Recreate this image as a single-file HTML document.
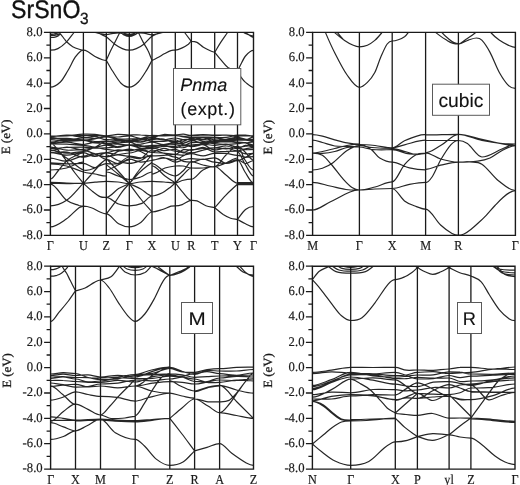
<!DOCTYPE html><html><head><meta charset="utf-8"><title>SrSnO3 band structures</title><style>html,body{margin:0;padding:0;background:#fff;overflow:hidden;}svg{display:block;}</style></head><body>
<svg width="520" height="485" viewBox="0 0 520 485" text-rendering="geometricPrecision">
<rect width="520" height="485" fill="#fff"/>
<text transform="translate(11.1 18.3) scale(0.91 1)" font-family="Liberation Sans, sans-serif" font-size="25.4" fill="#111" stroke="#111" stroke-width="0.35">SrSnO</text>
<text transform="translate(79.9 24.3) scale(0.95 1)" font-family="Liberation Sans, sans-serif" font-size="16.2" fill="#111" stroke="#111" stroke-width="0.3">3</text>
<clipPath id="c0"><rect x="50.4" y="32.4" width="203.1" height="203"/></clipPath>
<path clip-path="url(#c0)" fill="none" stroke="#262626" stroke-width="1.2" d="M50.4 87.2C53.7 87.2 57.1 85.1 60.4 82C62.9 79.7 65.3 74.9 67.8 70.8C70.3 66.7 72.7 61 75.2 57.2C77.1 54.4 78.9 52.6 80.8 51C81.7 50.3 82.5 50.2 83.4 50.2C84.8 50.2 86.2 50.8 87.6 51.6C90.1 53 92.5 55.2 95 56.6C97.5 58 99.9 58.9 102.4 59.7C103.7 60.1 105 60.3 106.3 60.3 M106.3 60.3C108.3 63.8 110.4 67.6 112.4 70.8C115.3 75.3 118.1 80.4 121 83.2C123.8 85.9 126.5 87.2 129.3 87.2C132.3 87.2 135.4 85 138.4 82C141.3 79.1 144.1 74.2 147 69.6C148.7 66.9 150.3 63.4 152 60.3 M152 60.3C153.8 60.3 155.6 58.8 157.4 57.8C159.9 56.5 162.3 54.8 164.8 53.5C167.1 52.3 169.3 51.1 171.6 50.4C172.8 50 174.1 50.2 175.3 50.2C177.6 50.2 179.9 49 182.2 47.9C184.3 47 186.3 45.7 188.4 44.2C189.4 43.5 190.4 41.4 191.4 41.4C193.3 41.4 195.1 41.5 197 42.4C199.1 43.4 201.3 46 203.4 47.3C205.9 48.8 208.3 49.9 210.8 51C212.1 51.6 213.4 51.9 214.7 52.3 M214.7 52.3C216.7 54.8 218.7 57.4 220.7 59.7C223.2 62.6 225.7 66 228.2 67.7C231.3 69.8 234.4 68.7 237.5 71C238.7 71.9 240 75.6 241.2 77.4C242.6 79.4 244.1 81.2 245.5 82.4C248.2 84.5 250.8 87.3 253.5 87.3 M237.5 71C238.3 69.3 239.2 67.5 240 65.9C241.8 62.5 243.7 58.1 245.5 56C248.2 52.9 250.8 50.4 253.5 50.4 M214.7 52.3C216.7 49 218.7 45.5 220.7 42.4C223 38.9 225.2 35.9 227.5 32.5C228.7 30.8 229.8 27 231 27 M50.4 50.2C52.9 50.2 55.4 49.9 57.9 48.6C60.8 47.1 63.7 44.7 66.6 41.8C69.1 39.3 71.5 35.7 74 32.5C75.3 30.8 76.7 27 78 27 M56 29C57.5 29 58.9 32.1 60.4 33.8C61.7 35.4 63.1 37.3 64.4 39C65.1 39.9 65.9 41.1 66.6 41.8C68.6 43.7 70.7 45.6 72.7 46.7C75.4 48.2 78.1 48.9 80.8 49.8C81.7 50.1 82.5 50.2 83.4 50.2 M106.3 60.3C107.9 56.8 109.5 53.2 111.1 49.8C112.3 47.2 113.6 44.9 114.8 42.4C116.5 39.1 118.1 35.8 119.8 32.5C120.5 31 121.3 28 122 28 M96 29C97.3 29 98.7 32.7 100 33.7C102.1 35.3 104.1 35.3 106.2 36.8C109.1 38.8 111.9 42.1 114.8 44.2C117.3 46 119.8 47.6 122.3 48.6C124.6 49.6 127 50.2 129.3 50.2C131.6 50.2 134 49.6 136.3 48.6C138.8 47.6 141.3 46.2 143.8 44.2C146.5 42 149.3 38.2 152 36.2C154.7 34.3 157.3 33.9 160 32.5C161.3 31.8 162.7 30 164 30 M152 60.3C150.7 57.2 149.5 53.6 148.2 51C146.6 47.6 144.9 45.5 143.3 42.4C141.7 39.3 140 35.7 138.4 32.5C137.6 30.9 136.8 28 136 28 M180 26C181.5 26 183.1 30.4 184.6 32.5C186.9 35.6 189.1 38.4 191.4 41.4 M50.4 34.1C51.6 34.1 52.8 34.2 54 34C55.4 33.8 56.8 33.3 58.2 33C59.1 32.8 60.1 32.4 61 32.4 M50.4 35.4C51.8 35.4 53.1 35.5 54.5 35.3C55.7 35.2 57 34.8 58.2 34.5C58.9 34.3 59.7 33.8 60.4 33.8 M50.4 37.3C51.9 37.3 53.5 37.4 55 37.1C56.1 36.9 57.1 36.5 58.2 35.9C58.9 35.5 59.7 34.1 60.4 34.1 M95 32.5C96.7 32.5 98.3 33.3 100 33.6C102.1 34 104.2 34.6 106.3 34.6C108.5 34.6 110.8 33.7 113 33.4C115.3 33.1 117.7 32.7 120 33C123.1 33.4 126.2 35.6 129.3 35.6C132.4 35.6 135.4 33.4 138.5 33C140.7 32.7 142.8 33.1 145 33.4C147.3 33.7 149.7 34.8 152 34.8C154 34.8 156 34 158 33.6C159.7 33.3 161.3 32.5 163 32.5 M118 31C119.8 31 121.7 33.7 123.5 34.6C125.4 35.5 127.4 36.4 129.3 36.4C131.2 36.4 133.1 35.5 135 34.6C136.9 33.7 138.7 31 140.6 31 M120 31C121.7 31 123.3 33 125 33.6C126.4 34.1 127.9 34.4 129.3 34.4C130.7 34.4 132.2 34.1 133.6 33.6C135.3 33 136.9 31 138.6 31 M239 30.5C241.3 30.5 243.7 32.9 246 33.8C248.5 34.7 251 36 253.5 36 M242 30.5C244.2 30.5 246.3 33.3 248.5 34.6C250.2 35.6 251.8 37.4 253.5 37.4 M50.4 205.8C55.8 205.8 61.2 204 66.6 200.3C72.2 196.5 77.8 188.9 83.4 183.2 M50.4 184.2C55.8 184.2 61.2 196.3 66.6 200.3C70.7 203.4 74.9 204 79 205.5C80.5 206 81.9 206.2 83.4 206.2 M50.4 226.9C55.8 226.9 61.2 222.4 66.6 218.8C70.7 216 74.9 210.8 79 207.7C80.5 206.6 81.9 206.7 83.4 206.2 M83.4 206.2C86 206.2 88.7 206.8 91.3 207.7C94.2 208.7 97.1 210.8 100 212C102.1 212.9 104.2 213.9 106.3 213.9 M83.4 183.2C86 185.6 88.7 188.3 91.3 190.4C94.2 192.7 97.1 195.2 100 196.6C102.1 197.6 104.2 197.4 106.3 197.4 M50.4 182.3C55.8 182.3 61.2 182.9 66.6 183C72.2 183.2 77.8 183.4 83.4 183.2C87.3 183.1 91.1 182.5 95 182.2C98.8 181.9 102.5 181.3 106.3 181.3C110.2 181.3 114.1 181.6 118 182C121.8 182.4 125.5 183.6 129.3 183.6C132.9 183.6 136.4 182.4 140 182C144 181.6 148 181.3 152 181.3C156 181.3 160 181.7 164 182C167.8 182.3 171.5 183 175.3 183 M50.4 183.3C55.8 183.3 61.2 183.6 66.6 183.6C72.2 183.6 77.8 183.2 83.4 183.2 M106.3 197.4C110.4 197.4 114.5 191 118.6 188.5C122.2 186.4 125.7 185.2 129.3 183.6 M106.3 197.4C110.4 197.4 114.5 202.5 118.6 204C122.2 205.3 125.7 205.8 129.3 205.8C133.5 205.8 137.8 205.2 142 203.4C145.3 202 148.7 196 152 196 M106.3 213.9C109.1 210.2 112 206.6 114.8 202.7C117.3 199.2 119.8 194.9 122.3 191.6C124.6 188.5 127 186.3 129.3 183.6 M106.3 213.9C110.4 213.9 114.5 221.5 118.6 223.8C122.2 225.8 125.7 226.9 129.3 226.9C133.1 226.9 137 225 140.8 222.5C144.5 220 148.3 212 152 212 M129.3 183.6C133.1 188.7 137 194.2 140.8 199C144.5 203.7 148.3 207.7 152 212 M129.3 183.6C133.1 185.4 137 186.9 140.8 189C144.5 191 148.3 196 152 196 M152 196C155.5 196 158.9 194.5 162.4 192.8C165.3 191.4 168.1 188.9 171 186.7C172.4 185.6 173.9 184.2 175.3 183 M152 212C155.5 212 158.9 210.6 162.4 209.5C165.3 208.6 168.1 207 171 206.2C172.4 205.8 173.9 205.8 175.3 205.8C177.6 205.8 179.9 205.4 182.2 204.6C185.3 203.6 188.3 200.3 191.4 200.3C193.3 200.3 195.1 200.2 197 200.9C200 202 202.9 204.7 205.9 205.8C208.8 206.9 211.8 207.1 214.7 207.7 M175.3 183C177.6 185.9 179.9 189.1 182.2 191.6C185.3 194.9 188.3 200.3 191.4 200.3 M175.3 183C177.6 183 179.9 181 182.2 180.5C185.3 179.8 188.3 179.2 191.4 179.2 M191.4 179.2C195.3 179.2 199.1 172.1 203 170C206.9 167.9 210.8 166.5 214.7 166.5 M214.7 207.7C218.4 203.6 222 199.1 225.7 195.3C229.6 191.2 233.6 187.9 237.5 184.2 M214.7 207.7C217.5 210 220.4 212.6 223.2 214.5C225.7 216.1 228.1 217.4 230.6 218.2C232.9 219 235.2 219 237.5 219.4 M214.7 166.5C218.5 166.5 222.2 172.2 226 175C229.8 177.8 233.7 183.2 237.5 183.2 M237.5 219.4C240.2 216.1 242.8 211.7 245.5 209.5C248.2 207.3 250.8 206.5 253.5 206.5 M237.5 219.4C240.2 220.9 242.8 222.6 245.5 223.8C248.2 225.1 250.8 226.9 253.5 226.9 M237.5 182.6C242.8 182.6 248.2 182.6 253.5 182.6 M237.5 183.6C242.8 183.6 248.2 183.6 253.5 183.6 M237.5 184.6C242.8 184.6 248.2 184.6 253.5 184.6 M50.4 143C52.9 143 55.5 147.2 58 150C60.9 153.2 63.7 157.1 66.6 161C69.4 164.8 72.2 169.3 75 173C77.8 176.7 80.6 179.8 83.4 183.2 M50.4 179C52.9 179 55.5 173.8 58 171C60.9 167.8 63.7 163.5 66.6 161C69.4 158.5 72.2 157.3 75 156C77.8 154.7 80.6 153 83.4 153 M50.4 170C55.8 170 61.2 169.3 66.6 168C72.2 166.6 77.8 162 83.4 162 M83.4 183.2C85.6 180.8 87.8 178.5 90 176C92.3 173.4 94.7 170.3 97 168C100.1 165 103.2 160 106.3 160 M106.3 158.5C110.2 162.7 114.1 166.7 118 171C121.8 175.1 125.5 179.4 129.3 183.6 M106.3 164.6C110.2 167.7 114.1 170.8 118 174C121.8 177.1 125.5 180.4 129.3 183.6 M129.3 183.6C132.9 179.7 136.4 175.4 140 172C144 168.2 148 165.5 152 162.2 M129.3 183.6C132.9 178.7 136.4 173.5 140 169C144 163.9 148 159.5 152 154.7 M152 163.7C156.3 163.7 160.7 169.7 165 172C168.4 173.8 171.9 176 175.3 176C178.2 176 181.1 172.6 184 170C186.5 167.8 188.9 161.7 191.4 161.7 M152 165.8C156.3 165.8 160.7 172.8 165 176C168.4 178.5 171.9 180.7 175.3 183 M175.3 183C177.9 180.3 180.4 177.4 183 175C185.8 172.4 188.6 168 191.4 168 M191.4 161.7C195.3 161.7 199.1 164.1 203 165C206.9 165.9 210.8 167 214.7 167 M191.4 168C195.3 168 199.1 168.2 203 168C206.9 167.7 210.8 166.5 214.7 166.5 M214.7 166.5C218.5 166.5 222.2 158.4 226 155C229.8 151.6 233.7 146 237.5 146 M237.5 146C240 146 242.5 156.2 245 160C247.8 164.2 250.7 170 253.5 170 M237.5 160C240 160 242.5 168.4 245 172C247.8 176.1 250.7 183 253.5 183 M106.3 170C110.2 170 114.1 166.7 118 165C121.8 163.4 125.5 160 129.3 160 M50.4 136C55.9 136 61.4 136.2 66.9 135.9C72.4 135.6 77.9 134.2 83.4 134.2C87.2 134.2 91 134.1 94.8 134.4C98.7 134.7 102.5 135.8 106.3 135.8C110.1 135.8 114 134.6 117.8 134.4C121.6 134.3 125.5 135 129.3 135C133.1 135 136.9 134.8 140.7 135C144.4 135.1 148.2 135.9 152 135.9C155.9 135.9 159.8 135.4 163.7 135.2C167.5 135.1 171.4 134.8 175.3 134.8C178 134.8 180.7 134.1 183.4 134.2C186 134.3 188.7 135.3 191.4 135.3C195.3 135.3 199.2 134.6 203.1 134.5C206.9 134.5 210.8 135 214.7 135C218.5 135 222.3 135 226.1 135.1C229.9 135.3 233.7 135.8 237.5 135.8C240.2 135.8 242.8 135.9 245.5 135.9C248.2 135.9 250.8 135.8 253.5 135.8 M50.4 136.6C55.9 136.6 61.4 135.1 66.9 135C72.4 134.8 77.9 135.7 83.4 135.7C87.2 135.7 91 135.5 94.8 135.6C98.7 135.7 102.5 136.4 106.3 136.4C110.1 136.4 114 138.5 117.8 138.9C121.6 139.3 125.5 138.9 129.3 138.9C133.1 138.9 136.9 139.2 140.7 138.6C144.4 138 148.2 135.3 152 135.3C155.9 135.3 159.8 135.9 163.7 135.9C167.5 136 171.4 135.6 175.3 135.6C178 135.6 180.7 136.3 183.4 136.3C186 136.4 188.7 135.9 191.4 135.9C195.3 135.9 199.2 136.1 203.1 136C206.9 136 210.8 135.6 214.7 135.6C218.5 135.6 222.3 134.8 226.1 135C229.9 135.1 233.7 136.6 237.5 136.6C240.2 136.6 242.8 135.1 245.5 135C248.2 135 250.8 136.4 253.5 136.4 M50.4 136.6C55.9 136.6 61.4 134.9 66.9 135C72.4 135.1 77.9 137.3 83.4 137.3C87.2 137.3 91 138.7 94.8 138.5C98.7 138.4 102.5 136.5 106.3 136.5C110.1 136.5 114 137.1 117.8 137C121.6 136.9 125.5 135.9 129.3 135.9C133.1 135.9 136.9 138.2 140.7 138.5C144.4 138.7 148.2 137.4 152 137.4C155.9 137.4 159.8 134.8 163.7 134.5C167.5 134.2 171.4 135.4 175.3 135.4C178 135.4 180.7 136.6 183.4 137C186 137.3 188.7 137.5 191.4 137.5C195.3 137.5 199.2 137.5 203.1 137.5C206.9 137.6 210.8 137.7 214.7 137.7C218.5 137.7 222.3 137.8 226.1 137.4C229.9 137 233.7 135.2 237.5 135.2C240.2 135.2 242.8 134.9 245.5 135.1C248.2 135.3 250.8 136.4 253.5 136.4 M50.4 137.7C55.9 137.7 61.4 140.2 66.9 140.2C72.4 140.2 77.9 137.9 83.4 137.9C87.2 137.9 91 136.4 94.8 136.7C98.7 137 102.5 139.7 106.3 139.7C110.1 139.7 114 140.1 117.8 140.2C121.6 140.4 125.5 140.4 129.3 140.4C133.1 140.4 136.9 140.6 140.7 140.1C144.4 139.7 148.2 137.6 152 137.6C155.9 137.6 159.8 139.7 163.7 139.8C167.5 139.8 171.4 138 175.3 138C178 138 180.7 139.6 183.4 139.8C186 140 188.7 139.3 191.4 139.3C195.3 139.3 199.2 139.8 203.1 139.6C206.9 139.3 210.8 137.9 214.7 137.9C218.5 137.9 222.3 139.5 226.1 139.7C229.9 139.8 233.7 138.6 237.5 138.6C240.2 138.6 242.8 140.1 245.5 139.9C248.2 139.6 250.8 137.2 253.5 137.2 M50.4 138.5C55.9 138.5 61.4 138.1 66.9 138.3C72.4 138.5 77.9 139.8 83.4 139.8C87.2 139.8 91 141.3 94.8 141.5C98.7 141.7 102.5 141.2 106.3 141.2C110.1 141.2 114 143.2 117.8 143C121.6 142.9 125.5 140.4 129.3 140.4C133.1 140.4 136.9 142 140.7 141.8C144.4 141.5 148.2 138.9 152 138.9C155.9 138.9 159.8 139.3 163.7 139.8C167.5 140.2 171.4 141.6 175.3 141.6C178 141.6 180.7 142 183.4 141.5C186 140.9 188.7 138.1 191.4 138.1C195.3 138.1 199.2 140.9 203.1 141.3C206.9 141.7 210.8 140.4 214.7 140.4C218.5 140.4 222.3 139.8 226.1 139.3C229.9 138.8 233.7 137.4 237.5 137.4C240.2 137.4 242.8 138.7 245.5 139.1C248.2 139.4 250.8 139.4 253.5 139.4 M50.4 138.5C55.9 138.5 61.4 138.4 66.9 138.6C72.4 138.8 77.9 140 83.4 140C87.2 140 91 139.4 94.8 138.9C98.7 138.4 102.5 137 106.3 137C110.1 137 114 138.8 117.8 139.4C121.6 140.1 125.5 140.7 129.3 140.7C133.1 140.7 136.9 138.6 140.7 138.7C144.4 138.8 148.2 141.3 152 141.3C155.9 141.3 159.8 141.6 163.7 141.4C167.5 141.2 171.4 139.9 175.3 139.9C178 139.9 180.7 142.9 183.4 143C186 143.1 188.7 140.6 191.4 140.6C195.3 140.6 199.2 142.9 203.1 143C206.9 143.2 210.8 141.3 214.7 141.3C218.5 141.3 222.3 142.2 226.1 142C229.9 141.8 233.7 140.1 237.5 140.1C240.2 140.1 242.8 139.7 245.5 139.7C248.2 139.8 250.8 140.6 253.5 140.6 M50.4 139.7C55.9 139.7 61.4 141.2 66.9 141.4C72.4 141.5 77.9 140.5 83.4 140.5C87.2 140.5 91 141.3 94.8 141.5C98.7 141.7 102.5 141.7 106.3 141.7C110.1 141.7 114 141.1 117.8 141C121.6 141 125.5 141.1 129.3 141.1C133.1 141.1 136.9 142.5 140.7 142.2C144.4 142 148.2 139.6 152 139.6C155.9 139.6 159.8 138.4 163.7 139C167.5 139.6 171.4 143.1 175.3 143.1C178 143.1 180.7 143.7 183.4 143.4C186 143 188.7 140.9 191.4 140.9C195.3 140.9 199.2 137.9 203.1 137.7C206.9 137.5 210.8 139.8 214.7 139.8C218.5 139.8 222.3 140.3 226.1 140.3C229.9 140.3 233.7 139.7 237.5 139.7C240.2 139.7 242.8 140 245.5 140.2C248.2 140.5 250.8 141 253.5 141 M50.4 142.1C55.9 142.1 61.4 140 66.9 139.7C72.4 139.4 77.9 140.3 83.4 140.3C87.2 140.3 91 142.5 94.8 143C98.7 143.5 102.5 143.4 106.3 143.4C110.1 143.4 114 143.9 117.8 144.1C121.6 144.4 125.5 144.9 129.3 144.9C133.1 144.9 136.9 144.6 140.7 144.2C144.4 143.7 148.2 142.1 152 142.1C155.9 142.1 159.8 144.6 163.7 144.6C167.5 144.7 171.4 142.4 175.3 142.4C178 142.4 180.7 140.1 183.4 139.6C186 139.1 188.7 139.5 191.4 139.5C195.3 139.5 199.2 137.4 203.1 137.7C206.9 138.1 210.8 141.5 214.7 141.5C218.5 141.5 222.3 140.6 226.1 140.6C229.9 140.7 233.7 142 237.5 142C240.2 142 242.8 142.9 245.5 142.9C248.2 142.8 250.8 141.8 253.5 141.8 M50.4 143.2C55.9 143.2 61.4 142 66.9 142.2C72.4 142.4 77.9 144.5 83.4 144.5C87.2 144.5 91 142.5 94.8 142.4C98.7 142.3 102.5 144 106.3 144C110.1 144 114 146.6 117.8 146.8C121.6 146.9 125.5 145 129.3 145C133.1 145 136.9 146.2 140.7 146.4C144.4 146.6 148.2 146 152 146C155.9 146 159.8 145.3 163.7 145C167.5 144.8 171.4 144.7 175.3 144.7C178 144.7 180.7 146.2 183.4 145.9C186 145.5 188.7 142.6 191.4 142.6C195.3 142.6 199.2 142 203.1 142.2C206.9 142.3 210.8 143.6 214.7 143.6C218.5 143.6 222.3 144.6 226.1 144.6C229.9 144.6 233.7 143.7 237.5 143.7C240.2 143.7 242.8 142.5 245.5 142.7C248.2 142.9 250.8 145 253.5 145 M50.4 144C55.9 144 61.4 144 66.9 144.2C72.4 144.5 77.9 145.3 83.4 145.3C87.2 145.3 91 147 94.8 147C98.7 147 102.5 145.2 106.3 145.2C110.1 145.2 114 147.5 117.8 147.5C121.6 147.5 125.5 145.1 129.3 145.1C133.1 145.1 136.9 147.9 140.7 148.2C144.4 148.6 148.2 147.1 152 147.1C155.9 147.1 159.8 145.2 163.7 144.5C167.5 143.8 171.4 143.2 175.3 143.2C178 143.2 180.7 144.3 183.4 144.7C186 145 188.7 145.2 191.4 145.2C195.3 145.2 199.2 144.2 203.1 144.2C206.9 144.3 210.8 145.3 214.7 145.3C218.5 145.3 222.3 143.9 226.1 144.2C229.9 144.5 233.7 147.1 237.5 147.1C240.2 147.1 242.8 146.5 245.5 146.2C248.2 145.9 250.8 145.3 253.5 145.3 M50.4 147.2C55.9 147.2 61.4 149.8 66.9 150.2C72.4 150.5 77.9 149.4 83.4 149.4C87.2 149.4 91 148.7 94.8 147.3C98.7 146 102.5 141.4 106.3 141.4C110.1 141.4 114 142.8 117.8 142.9C121.6 143.1 125.5 142.1 129.3 142.1C133.1 142.1 136.9 145.7 140.7 146.3C144.4 146.8 148.2 145.4 152 145.4C155.9 145.4 159.8 145 163.7 145.4C167.5 145.8 171.4 147.9 175.3 147.9C178 147.9 180.7 145.6 183.4 145.4C186 145.2 188.7 146.7 191.4 146.7C195.3 146.7 199.2 145.1 203.1 144.4C206.9 143.7 210.8 142.7 214.7 142.7C218.5 142.7 222.3 141.4 226.1 141.3C229.9 141.3 233.7 142.5 237.5 142.5C240.2 142.5 242.8 142.2 245.5 142.9C248.2 143.6 250.8 146.6 253.5 146.6 M50.4 148.6C55.9 148.6 61.4 147.6 66.9 147.4C72.4 147.1 77.9 147.1 83.4 147.1C87.2 147.1 91 148.1 94.8 148.2C98.7 148.3 102.5 147.8 106.3 147.8C110.1 147.8 114 146.9 117.8 146.5C121.6 146 125.5 145.1 129.3 145.1C133.1 145.1 136.9 145.1 140.7 145.5C144.4 146 148.2 148 152 148C155.9 148 159.8 150.3 163.7 150.6C167.5 150.8 171.4 149.3 175.3 149.3C178 149.3 180.7 152.1 183.4 152.2C186 152.2 188.7 149.7 191.4 149.7C195.3 149.7 199.2 148.8 203.1 148.5C206.9 148.2 210.8 147.9 214.7 147.9C218.5 147.9 222.3 145.8 226.1 146C229.9 146.1 233.7 148.8 237.5 148.8C240.2 148.8 242.8 145.6 245.5 145.3C248.2 145 250.8 147.1 253.5 147.1 M50.4 150.4C55.9 150.4 61.4 153 66.9 153.2C72.4 153.3 77.9 151.5 83.4 151.5C87.2 151.5 91 148 94.8 147.7C98.7 147.4 102.5 149.4 106.3 149.4C110.1 149.4 114 150.8 117.8 150.9C121.6 151 125.5 149.9 129.3 149.9C133.1 149.9 136.9 149.8 140.7 149.5C144.4 149.2 148.2 148.3 152 148.3C155.9 148.3 159.8 146.6 163.7 146.4C167.5 146.1 171.4 146.7 175.3 146.7C178 146.7 180.7 148 183.4 147.7C186 147.4 188.7 145.1 191.4 145.1C195.3 145.1 199.2 143.8 203.1 144.6C206.9 145.4 210.8 149.9 214.7 149.9C218.5 149.9 222.3 148 226.1 148.2C229.9 148.3 233.7 150.8 237.5 150.8C240.2 150.8 242.8 149.5 245.5 148.9C248.2 148.4 250.8 147.6 253.5 147.6 M50.4 150.7C55.9 150.7 61.4 147.2 66.9 147.1C72.4 147 77.9 150.1 83.4 150.1C87.2 150.1 91 153.3 94.8 153.7C98.7 154.1 102.5 152.6 106.3 152.6C110.1 152.6 114 150.2 117.8 149.9C121.6 149.6 125.5 150.8 129.3 150.8C133.1 150.8 136.9 148.7 140.7 148.9C144.4 149.1 148.2 152.1 152 152.1C155.9 152.1 159.8 148.6 163.7 148.4C167.5 148.3 171.4 151.1 175.3 151.1C178 151.1 180.7 152.6 183.4 152.9C186 153.2 188.7 152.9 191.4 152.9C195.3 152.9 199.2 150.9 203.1 150.1C206.9 149.2 210.8 148 214.7 148C218.5 148 222.3 148.8 226.1 148.8C229.9 148.7 233.7 147.7 237.5 147.7C240.2 147.7 242.8 149.4 245.5 149.7C248.2 149.9 250.8 149.4 253.5 149.4 M50.4 152.7C55.9 152.7 61.4 155.1 66.9 155.1C72.4 155.1 77.9 152.7 83.4 152.7C87.2 152.7 91 156.4 94.8 156.5C98.7 156.5 102.5 152.9 106.3 152.9C110.1 152.9 114 154.5 117.8 154.5C121.6 154.5 125.5 153 129.3 153C133.1 153 136.9 150.5 140.7 150.4C144.4 150.3 148.2 152.5 152 152.5C155.9 152.5 159.8 152.9 163.7 153.2C167.5 153.5 171.4 154.3 175.3 154.3C178 154.3 180.7 150.4 183.4 149.7C186 149.1 188.7 150.3 191.4 150.3C195.3 150.3 199.2 147 203.1 147.3C206.9 147.6 210.8 152 214.7 152C218.5 152 222.3 151.5 226.1 151.4C229.9 151.2 233.7 151.2 237.5 151.2C240.2 151.2 242.8 153.6 245.5 153.9C248.2 154.3 250.8 153.3 253.5 153.3 M50.4 152.7C55.9 152.7 61.4 151.3 66.9 152.1C72.4 152.8 77.9 157.2 83.4 157.2C87.2 157.2 91 155 94.8 154.9C98.7 154.8 102.5 156.7 106.3 156.7C110.1 156.7 114 155.1 117.8 155C121.6 154.9 125.5 156.1 129.3 156.1C133.1 156.1 136.9 157.8 140.7 157.8C144.4 157.7 148.2 155.9 152 155.9C155.9 155.9 159.8 155.6 163.7 155.4C167.5 155.2 171.4 154.5 175.3 154.5C178 154.5 180.7 155.3 183.4 155.2C186 155 188.7 153.7 191.4 153.7C195.3 153.7 199.2 155.9 203.1 155.9C206.9 155.8 210.8 153.4 214.7 153.4C218.5 153.4 222.3 153.1 226.1 153.4C229.9 153.7 233.7 155.3 237.5 155.3C240.2 155.3 242.8 157.3 245.5 157C248.2 156.7 250.8 153.5 253.5 153.5 M50.4 158.2C55.9 158.2 61.4 161.6 66.9 161.2C72.4 160.8 77.9 156.1 83.4 156.1C87.2 156.1 91 153 94.8 153.6C98.7 154.1 102.5 159.4 106.3 159.4C110.1 159.4 114 163.6 117.8 163.6C121.6 163.6 125.5 159.2 129.3 159.2C133.1 159.2 136.9 161.9 140.7 162.1C144.4 162.3 148.2 160.5 152 160.5C155.9 160.5 159.8 157.4 163.7 157.6C167.5 157.9 171.4 162.1 175.3 162.1C178 162.1 180.7 160.5 183.4 159.9C186 159.3 188.7 158.6 191.4 158.6C195.3 158.6 199.2 159.6 203.1 159.5C206.9 159.4 210.8 157.9 214.7 157.9C218.5 157.9 222.3 162.9 226.1 163.4C229.9 163.9 233.7 160.7 237.5 160.7C240.2 160.7 242.8 158.2 245.5 157.5C248.2 156.8 250.8 156.7 253.5 156.7 M50.4 162.9C55.9 162.9 61.4 163.8 66.9 163.8C72.4 163.9 77.9 163.3 83.4 163.3C87.2 163.3 91 167.5 94.8 167.6C98.7 167.6 102.5 163.6 106.3 163.6C110.1 163.6 114 164.6 117.8 163.6C121.6 162.5 125.5 157 129.3 157C133.1 157 136.9 159.6 140.7 158.4C144.4 157.2 148.2 150 152 150C155.9 150 159.8 152 163.7 153.2C167.5 154.4 171.4 157.1 175.3 157.1C178 157.1 180.7 160.5 183.4 161.4C186 162.2 188.7 162.2 191.4 162.2C195.3 162.2 199.2 159 203.1 159C206.9 159 210.8 162.2 214.7 162.2C218.5 162.2 222.3 163.8 226.1 163.3C229.9 162.8 233.7 159.5 237.5 159.5C240.2 159.5 242.8 163.4 245.5 163.5C248.2 163.7 250.8 160.6 253.5 160.6 M106.3 157C110.2 157 114.1 152.9 118 151.5C121.8 150.2 125.5 149 129.3 149C133.1 149 136.8 150.2 140.6 151.5C144.4 152.8 148.2 157 152 157 M106.3 155C110.2 155 114.1 159.1 118 160.5C121.8 161.9 125.5 163.4 129.3 163.4C133.1 163.4 136.8 161.9 140.6 160.5C144.4 159.1 148.2 155 152 155 M106.3 172C110.2 172 114.1 174.7 118 176C121.8 177.2 125.5 179.5 129.3 179.5C133.1 179.5 136.8 178.2 140.6 177C144.4 175.7 148.2 172 152 172 M50.4 150C55.8 150 61.2 154.7 66.6 158C72.2 161.4 77.8 168 83.4 170C87.3 171.4 91.1 169.7 95 168C98.8 166.4 102.5 160 106.3 160 M50.4 164C55.8 164 61.2 164.7 66.6 166C72.2 167.4 77.8 170.4 83.4 172C87.3 173.1 91.1 173.3 95 174C98.8 174.7 102.5 176 106.3 176 M152 174C156.3 174 160.7 169.5 165 168C168.4 166.8 171.9 166.4 175.3 166C177.9 165.7 180.4 165.7 183 166C185.8 166.3 188.6 168 191.4 168 M152 160C156.3 160 160.7 158 165 158C168.4 158 171.9 160.4 175.3 160C177.9 159.7 180.4 157.3 183 156C185.8 154.6 188.6 152 191.4 152 M214.7 166.5C218.5 166.5 222.2 164.4 226 163C229.8 161.6 233.7 158 237.5 158 M237.5 146C240 146 242.5 149.8 245 152C247.8 154.5 250.7 160 253.5 160 M237.5 152C240 152 242.5 160.2 245 164C247.8 168.2 250.7 176 253.5 176"/>
<path fill="none" stroke="#1a1a1a" stroke-width="1.3" d="M83.4 32.4V235.4 M106.3 32.4V235.4 M129.3 32.4V235.4 M152 32.4V235.4 M175.3 32.4V235.4 M191.4 32.4V235.4 M214.7 32.4V235.4 M237.5 32.4V235.4"/>
<path fill="none" stroke="#1a1a1a" stroke-width="1.4" d="M50.4 32.4H253.5V235.4H50.4Z"/>
<path fill="none" stroke="#1a1a1a" stroke-width="1.3" d="M43.9 32.4H50.4 M46.4 45.1H50.4 M43.9 57.8H50.4 M46.4 70.5H50.4 M43.9 83.2H50.4 M46.4 95.8H50.4 M43.9 108.5H50.4 M46.4 121.2H50.4 M43.9 133.9H50.4 M46.4 146.6H50.4 M43.9 159.3H50.4 M46.4 172H50.4 M43.9 184.7H50.4 M46.4 197.3H50.4 M43.9 210H50.4 M46.4 222.7H50.4 M43.9 235.4H50.4"/>
<g font-family="Liberation Serif, serif" font-size="13.1" text-anchor="end" fill="#1a1a1a" stroke="#1a1a1a" stroke-width="0.18"><text transform="translate(42.5 35.7) scale(0.97 1)">8.0</text><text transform="translate(42.5 61.1) scale(0.97 1)">6.0</text><text transform="translate(42.5 86.5) scale(0.97 1)">4.0</text><text transform="translate(42.5 111.8) scale(0.97 1)">2.0</text><text transform="translate(42.5 137.2) scale(0.97 1)">0.0</text><text transform="translate(42.5 162.6) scale(0.97 1)">-2.0</text><text transform="translate(42.5 188) scale(0.97 1)">-4.0</text><text transform="translate(42.5 213.3) scale(0.97 1)">-6.0</text><text transform="translate(42.5 238.7) scale(0.97 1)">-8.0</text></g>
<text transform="translate(9.6 136.9) rotate(-90) scale(1.03 1)" font-family="Liberation Serif, serif" font-size="12.5" text-anchor="middle" fill="#1a1a1a" stroke="#1a1a1a" stroke-width="0.3">E (eV)</text>
<g font-family="Liberation Serif, serif" font-size="13.6" text-anchor="middle" fill="#1a1a1a" stroke="#1a1a1a" stroke-width="0.18"><text transform="translate(50.4 249.6) scale(0.9 1)">Γ</text><text transform="translate(83.4 249.6) scale(0.9 1)">U</text><text transform="translate(106.3 249.6) scale(0.9 1)">Z</text><text transform="translate(129.3 249.6) scale(0.9 1)">Γ</text><text transform="translate(152 249.6) scale(0.9 1)">X</text><text transform="translate(175.3 249.6) scale(0.9 1)">U</text><text transform="translate(191.4 249.6) scale(0.9 1)">R</text><text transform="translate(214.7 249.6) scale(0.9 1)">T</text><text transform="translate(237.5 249.6) scale(0.9 1)">Y</text><text transform="translate(253.5 249.6) scale(0.9 1)">Γ</text></g>
<rect x="173.5" y="68.5" width="67.3" height="56.3" fill="#fff" stroke="#5a5a5a" stroke-width="1"/>
<text x="180.2" y="90.5" font-family="Liberation Sans, sans-serif" fill="#111" stroke="#111" stroke-width="0.12" font-size="18" font-style="italic">Pnma</text><text x="180.6" y="115.3" font-family="Liberation Sans, sans-serif" fill="#111" stroke="#111" stroke-width="0.12" font-size="18" letter-spacing="0.55">(expt.)</text>
<clipPath id="c1"><rect x="312.6" y="32.4" width="202.8" height="203"/></clipPath>
<path clip-path="url(#c1)" fill="none" stroke="#262626" stroke-width="1.2" d="M323 25C323.8 25 324.7 30.6 325.5 32.6C328.6 39.9 331.6 46.7 334.7 52.7C338.8 60.8 343 69.2 347.1 75C351.2 80.8 355.3 87.4 359.4 87.4C362.1 87.4 364.7 85 367.4 82.4C369.9 80 372.3 77.2 374.8 72.5C376.9 68.6 378.9 61.2 381 56.5C383.1 51.8 385.1 46.9 387.2 44C388.9 41.7 390.5 41 392.2 41C394.2 41 396.3 40.5 398.3 39.8C400.4 39.1 402.4 38.2 404.5 36.7C405.7 35.8 407 34.3 408.2 32.6C408.8 31.8 409.4 29 410 29 M330 27C331.6 27 333.1 31.2 334.7 32.6C338 35.6 341.3 38.1 344.6 40.4C347.5 42.4 350.4 44 353.3 45.3C355.3 46.2 357.4 46.8 359.4 46.8C362.1 46.8 364.7 46.4 367.4 45.3C369.9 44.3 372.3 42.5 374.8 40.4C377.1 38.4 379.3 35.8 381.6 33C382.4 32 383.2 29 384 29 M334 27C335.2 27 336.3 31 337.5 32.6C338.7 34.2 339.8 35.5 341 36.8C342.2 38.1 343.4 40.4 344.6 40.4 M432 27C433.3 27 434.6 31.4 435.9 32.6C439.6 35.9 443.3 38.1 447 40.4C449.1 41.7 451.1 42.8 453.2 43.5C454.9 44 456.7 44 458.4 44C460.8 44 463.3 41 465.7 39.4C468.8 37.3 472 35.6 475.1 33C476.1 32.2 477 29 478 29 M439 27C440 27 441 31.4 442 32.6C444.3 35.4 446.7 37.3 449 39.2C450.7 40.6 452.3 41.8 454 42.6C455.5 43.3 456.9 43.6 458.4 43.6 M458.4 44C461.7 44 465.1 41.2 468.4 40.1C471.1 39.2 473.7 38 476.4 38C478.2 38 480 38.2 481.8 40.1C484.5 42.9 487.2 47.1 489.9 52.1C493 57.8 496.1 66.6 499.2 72.2C502.3 77.8 505.5 82.5 508.6 85.6C510.9 87.9 513.1 88.3 515.4 88.3 M488 28C489.1 28 490.1 31.8 491.2 33C493.9 35.9 496.5 38.2 499.2 40.1C502.3 42.3 505.5 44 508.6 45.4C510.9 46.4 513.1 47.4 515.4 47.4 M312.6 134.6C315.9 134.6 319.1 135.3 322.4 136.1C326.5 137.1 330.6 138.7 334.7 139.8C338.8 140.9 343 142.2 347.1 142.9C351.2 143.6 355.3 144.1 359.4 144.1 M312.6 140.2C315.9 140.2 319.1 141.6 322.4 142.5C326.5 143.6 330.6 145.3 334.7 146C338.8 146.7 342.9 146.4 347 146.5C351.1 146.6 355.3 146.6 359.4 146.6 M312.6 153.2C315.9 153.2 319.1 152.2 322.4 151.5C326.5 150.6 330.6 149.5 334.7 148.5C338.8 147.5 342.9 146.2 347 145.5C351.1 144.8 355.3 144.1 359.4 144.1 M312.6 153.2C315.9 153.2 319.1 153.7 322.4 153.4C326.5 153.1 330.6 152.5 334.7 151.5C338.8 150.5 342.9 148.3 347 147.5C351.1 146.7 355.3 146.6 359.4 146.6 M312.6 153.2C315.9 153.2 319.1 153.4 322.4 155.3C325.3 157 328.1 160.7 331 164C335.1 168.7 339.3 174.8 343.4 179.4C346.3 182.6 349.1 185.6 352 187.5C354.5 189.1 356.9 190 359.4 190 M312.6 170C315.9 170 319.1 169.3 322.4 168.2C325.7 167.1 329 165.7 332.3 163.3C337.2 159.8 342.2 153.7 347.1 150.5C351.2 147.8 355.3 145.6 359.4 145.6 M312.6 182.4C318.4 182.4 324.2 184.8 330 186C335.3 187.1 340.7 188.8 346 189.5C350.5 190.1 354.9 190 359.4 190 M312.6 210C318.4 210 324.2 204.8 330 202C336.7 198.8 343.3 194.7 350 192C353.1 190.7 356.3 190 359.4 190 M359.4 144.5C364.6 144.5 369.8 145 375 145.5C380.7 146.1 386.5 147.8 392.2 147.8 M359.4 147C363.6 147 367.8 149.2 372 149.5C378.7 150.1 385.5 149.7 392.2 149.7 M359.4 144.5C363.4 144.5 367.5 147 371.5 149.7C374.2 151.5 377 156.4 379.7 158C383.9 160.5 388 162.1 392.2 162.1 M359.4 190C364.6 190 369.8 188.3 375 187C380.7 185.6 386.5 181.9 392.2 181.9 M359.4 190C364.6 190 369.8 189.2 375 189C380.7 188.7 386.5 188.5 392.2 188.5 M392.2 147.8C396.3 147.8 400.4 142.5 404.5 140.7C410 138.2 415.5 136.5 421 134.9C422.5 134.5 424.1 134.6 425.6 134.6 M392.2 147.8C396.3 147.8 400.4 145.7 404.5 144.8C411.5 143.2 418.6 140.2 425.6 140.2 M392.2 149.7C397.9 149.7 403.7 153.3 409.4 153.9C414.8 154.5 420.2 153.4 425.6 153.4 M392.2 148.5C396.5 148.5 400.7 150.4 405 151.5C408.7 152.4 412.3 154.2 416 154.5C419.2 154.8 422.4 153.4 425.6 153.4 M359.4 145.5C363.6 145.5 367.8 147.1 372 147.5C378.7 148.1 385.5 148.5 392.2 148.5 M392.2 162.1C397.9 162.1 403.7 166.6 409.4 167.9C414.8 169.2 420.2 169.9 425.6 169.9 M392.2 181.9C396.3 181.9 400.4 169.3 404.5 164.6C408.3 160.2 412.2 156.7 416 154.7C419.2 153 422.4 153.4 425.6 153.4 M392.2 188.5C397.9 188.5 403.7 185.4 409.4 184.4C414.8 183.4 420.2 182.4 425.6 182.4 M392.2 188.5C396.3 188.5 400.4 197.8 404.5 200.9C408 203.6 411.5 204.6 415 206C418.5 207.4 422.1 209.1 425.6 209.1 M425.6 134.9C436.5 134.9 447.5 134.3 458.4 134.3 M425.6 140.5C436.5 140.5 447.5 140.5 458.4 140.5 M425.6 152.8C430.6 152.8 435.6 148.4 440.6 145.6C446.5 142.3 452.5 134.3 458.4 134.3 M425.6 152.8C430.6 152.8 435.6 157.6 440.6 159C446.5 160.7 452.5 162.1 458.4 162.1 M425.6 169.3C430.6 169.3 435.6 166.3 440.6 165.2C446.5 163.9 452.5 162.1 458.4 162.1 M425.6 182.7C427.9 182.7 430.1 179.9 432.4 176.5C435.1 172.4 437.9 164.7 440.6 160C444.1 154.1 447.5 148.4 451 144.6C453.5 141.9 455.9 140.5 458.4 140.5 M425.6 209.1C430.6 209.1 435.6 220.4 440.6 225C444.4 228.5 448.2 231.3 452 233.5C454.1 234.7 456.3 235.4 458.4 235.4 M458.4 134.3C466.2 134.3 474.1 138.8 481.9 140.5C488.8 141.9 495.6 142.9 502.5 143.6C506.8 144 511.1 144 515.4 144 M458.4 134.3C466.2 134.3 474.1 137.7 481.9 139.4C488.8 140.9 495.6 142.7 502.5 144C506.8 144.8 511.1 145.6 515.4 145.6 M458.4 140.5C461.4 140.5 464.4 141.5 467.4 143.6C472.2 147 477.1 157 481.9 157C488.8 157 495.6 151.4 502.5 148.7C506.8 147 511.1 144 515.4 144 M458.4 162.1C464.8 162.1 471.3 161.9 477.7 161.1C481.8 160.6 485.9 159.8 490 158C494.3 156.1 498.7 152.1 503 150C507.1 148 511.3 145.6 515.4 145.6 M458.4 162.1C462.3 162.1 466.1 161.7 470 162C474 162.4 477.9 161.6 481.9 164.2C487.4 167.8 492.9 176.4 498.4 180.7C504.1 185.2 509.7 190.6 515.4 190.6 M458.4 235.4C460.3 235.4 462.1 234.9 464 234C466.3 232.9 468.5 231.3 470.8 229.5C473.4 227.5 475.9 225.2 478.5 222.8C481.1 220.5 483.6 218.1 486.2 215.4C489.1 212.3 492.1 208.6 495 205.5C497.7 202.7 500.3 199.9 503 197.5C505.2 195.6 507.3 193.8 509.5 192.6C511.5 191.5 513.4 190.6 515.4 190.6"/>
<path fill="none" stroke="#1a1a1a" stroke-width="1.3" d="M359.4 32.4V235.4 M392.2 32.4V235.4 M425.6 32.4V235.4 M458.4 32.4V235.4"/>
<path fill="none" stroke="#1a1a1a" stroke-width="1.4" d="M312.6 32.4H515.4V235.4H312.6Z"/>
<path fill="none" stroke="#1a1a1a" stroke-width="1.3" d="M306.1 32.4H312.6 M308.6 45.1H312.6 M306.1 57.8H312.6 M308.6 70.5H312.6 M306.1 83.2H312.6 M308.6 95.8H312.6 M306.1 108.5H312.6 M308.6 121.2H312.6 M306.1 133.9H312.6 M308.6 146.6H312.6 M306.1 159.3H312.6 M308.6 172H312.6 M306.1 184.7H312.6 M308.6 197.3H312.6 M306.1 210H312.6 M308.6 222.7H312.6 M306.1 235.4H312.6"/>
<g font-family="Liberation Serif, serif" font-size="13.1" text-anchor="end" fill="#1a1a1a" stroke="#1a1a1a" stroke-width="0.18"><text transform="translate(304.7 35.7) scale(0.97 1)">8.0</text><text transform="translate(304.7 61.1) scale(0.97 1)">6.0</text><text transform="translate(304.7 86.5) scale(0.97 1)">4.0</text><text transform="translate(304.7 111.8) scale(0.97 1)">2.0</text><text transform="translate(304.7 137.2) scale(0.97 1)">0.0</text><text transform="translate(304.7 162.6) scale(0.97 1)">-2.0</text><text transform="translate(304.7 188) scale(0.97 1)">-4.0</text><text transform="translate(304.7 213.3) scale(0.97 1)">-6.0</text><text transform="translate(304.7 238.7) scale(0.97 1)">-8.0</text></g>
<text transform="translate(272.2 137.2) rotate(-90) scale(1.03 1)" font-family="Liberation Serif, serif" font-size="12.5" text-anchor="middle" fill="#1a1a1a" stroke="#1a1a1a" stroke-width="0.3">E (eV)</text>
<g font-family="Liberation Serif, serif" font-size="13.6" text-anchor="middle" fill="#1a1a1a" stroke="#1a1a1a" stroke-width="0.18"><text transform="translate(312.6 249.6) scale(0.9 1)">M</text><text transform="translate(359.4 249.6) scale(0.9 1)">Γ</text><text transform="translate(392.2 249.6) scale(0.9 1)">X</text><text transform="translate(425.6 249.6) scale(0.9 1)">M</text><text transform="translate(458.4 249.6) scale(0.9 1)">R</text><text transform="translate(515.4 249.6) scale(0.9 1)">Γ</text></g>
<rect x="432.5" y="84.2" width="57" height="31.1" fill="#fff" stroke="#5a5a5a" stroke-width="1"/>
<text x="460.9" y="106.5" font-family="Liberation Sans, sans-serif" fill="#111" stroke="#111" stroke-width="0.12" font-size="19.3" text-anchor="middle">cubic</text>
<clipPath id="c2"><rect x="50.6" y="266.2" width="202.9" height="202.9"/></clipPath>
<path clip-path="url(#c2)" fill="none" stroke="#262626" stroke-width="1.2" d="M50.8 321.4C53.6 321.4 56.3 315.3 59.1 312.1C62.2 308.5 65.3 305 68.4 301C70.8 297.9 73.1 294.2 75.5 290.8 M75.5 290.8C78.7 289.9 81.9 289.4 85.1 288C88.2 286.6 91.3 284 94.4 282.4C96.4 281.3 98.5 280 100.5 280C103.4 280 106.3 284.3 109.2 288C112.3 291.9 115.4 298.2 118.5 302.8C121.6 307.4 124.7 312.3 127.8 315.8C130.3 318.5 132.7 321.4 135.2 321.4C138.4 321.4 141.6 317.8 144.8 314C147.9 310.3 151 304.7 154.1 299.1C157.2 293.5 160.3 285.3 163.4 280.6C165.5 277.4 167.7 275.4 169.8 275.4 M50.8 276.2C52.9 276.2 54.9 275.8 57 275.3C58.3 274.9 59.7 274.4 61 273.5C62.3 272.7 63.5 271.5 64.8 270.3C65.5 269.6 66.3 268.7 67 267.8C67.8 266.8 68.7 264.5 69.5 264.5 M75.5 290.8C73.8 287.4 72 284 70.3 280.6C69 278.1 67.8 275.3 66.5 273C65.9 271.9 65.2 271.2 64.6 270.3C64.1 269.5 63.5 268.7 63 267.8C62.3 266.7 61.7 264.5 61 264.5 M50.8 269.7C52.5 269.7 54.3 269.3 56 268.8C57.3 268.4 58.7 267.9 60 267C60.8 266.4 61.7 264.5 62.5 264.5 M100.5 280C104 278.9 107.5 279.2 111 276.8C113.5 275.1 116 271.2 118.5 267.6C119 266.9 119.5 264 120 264 M116 264C119 264 122 270.3 125 272C128.4 273.9 131.8 275 135.2 275C138.5 275 141.7 274.3 145 272.5C148.3 270.6 151.7 264 155 264 M119 264C121.7 264 124.3 267.9 127 269C129.7 270.1 132.5 270.4 135.2 270.4C137.8 270.4 140.4 270.1 143 269C145.7 267.9 148.3 264 151 264 M122 264C124.3 264 126.7 266.4 129 267C131.1 267.6 133.1 267.6 135.2 267.6C137.1 267.6 139.1 267.5 141 267C143.3 266.3 145.7 264 148 264 M169.8 275.4C167.5 274.3 165.3 273.2 163 272C161 270.9 159 269.6 157 268.6C155.2 267.6 153.3 266.8 151.5 266C150.7 265.6 149.8 265 149 265 M169.8 275.4C167.9 274.1 165.9 272.9 164 271.5C162.5 270.4 161 269.1 159.5 268C158 266.9 156.5 265 155 265 M169.8 275.4C173.2 274 176.6 272.8 180 271.3C183.7 269.7 187.5 268.1 191.2 266C191.8 265.7 192.4 264 193 264 M169.8 275.4C173.5 275.4 177.3 273.9 181 272.4C183.7 271.3 186.3 269.5 189 267.5C190 266.7 191 264 192 264 M169.8 275.4C172.5 275.4 175.3 274.7 178 273.5C181 272.2 184 270.4 187 268C188 267.2 189 264 190 264 M232 264C235.7 264 239.3 270.1 243 272C246.5 273.8 250 275 253.5 275 M236 264C239.3 264 242.7 270.4 246 272.8C248.5 274.6 251 276.4 253.5 276.4 M50.8 386.2C54.8 386.2 58.8 391.5 62.8 394.5C67 397.6 71.3 404.5 75.5 404.5 M50.8 400.1C54.8 400.1 58.8 398.6 62.8 397.3C67 395.9 71.3 391.8 75.5 391.8 M50.8 416.9C54.9 416.9 58.9 417.8 63 418.3C67.2 418.9 71.3 420.2 75.5 420.2 M50.8 421.2C55 421.2 59.2 414.5 63.4 411.5C67.4 408.7 71.5 403.8 75.5 403.8 M50.8 422.7C55 422.7 59.2 425.5 63.4 426.9C67.4 428.2 71.5 430.8 75.5 430.8 M50.8 439.4C55 439.4 59.2 438 63.4 436.5C67.4 435.1 71.5 430.8 75.5 430.8 M50.8 420.5C54.9 420.5 58.9 420.3 63 420.3C67.2 420.2 71.3 420.2 75.5 420.2 M75.5 430.8C79.2 430.8 82.8 427.7 86.5 426C91.2 423.8 95.8 419.2 100.5 419.2 M75.5 404.2C79.7 404.2 83.8 407.6 88 409.4C92.2 411.2 96.3 415 100.5 415 M75.5 420.2C83.8 420.2 92.2 419.2 100.5 419.2 M75.5 421C83.8 421 92.2 420 100.5 420 M75.5 391.8C79.7 391.8 83.8 393.7 88 394.5C92.2 395.3 96.3 396.4 100.5 396.4 M100.5 415C103.7 415 106.8 409.3 110 406C112.8 403.1 115.7 399.4 118.5 396.4C122.2 392.5 125.9 388.9 129.6 385.3C131.5 383.5 133.3 380 135.2 380 M100.5 415C104 415 107.5 418.1 111 418.5C115.7 419.1 120.3 418.4 125 418C128.4 417.7 131.8 416.3 135.2 416.3 M100.5 419.2C105.3 419.2 110.2 419.8 115 420C121.7 420.3 128.5 420.6 135.2 420.6 M100.5 420C105.3 420 110.2 420.9 115 421.2C121.7 421.5 128.5 421.8 135.2 421.8 M100.5 419.2C105.4 419.2 110.4 429.8 115.3 432.7C121.9 436.6 128.6 439.4 135.2 439.4 M100.5 396.4C106 396.4 111.5 396.7 117 397.4C123.1 398.2 129.1 401.1 135.2 401.1 M135.2 374.4C140.7 374.4 146.1 371.1 151.6 370C157.7 368.7 163.7 367.2 169.8 367.2 M135.2 386C140.7 386 146.1 379.1 151.6 375.9C155.7 373.5 159.9 371 164 369C165.9 368.1 167.9 367.2 169.8 367.2 M135.2 386C140.7 386 146.1 389.9 151.6 391C157.7 392.3 163.7 393.2 169.8 393.2 M135.2 415.6C138.3 415.6 141.3 407.9 144.4 403.3C147.3 399 150.2 393.3 153.1 388.9C156 384.6 158.8 379.9 161.7 377.3C164.4 374.8 167.1 373.7 169.8 373.7 M135.2 401.1C139.7 401.1 144.3 398.6 148.8 397.5C153.6 396.3 158.4 395 163.2 394C165.4 393.5 167.6 393.2 169.8 393.2 M135.2 420.6C140.8 420.6 146.4 419.9 152 419.5C157.9 419.1 163.9 418.4 169.8 418.4 M135.2 421.8C140.8 421.8 146.4 420.9 152 420.3C157.9 419.7 163.9 418.4 169.8 418.4 M135.2 439.4C138.3 439.4 141.4 443.1 144.5 446C148.5 449.8 152.6 456.3 156.6 459.4C161 462.8 165.4 465.4 169.8 465.4 M169.8 418.4C173.9 423.6 177.9 428.7 182 434C186.2 439.5 190.4 445.3 194.6 450.9 M169.8 418.4C173.9 414.9 177.9 411.2 182 408C186.2 404.7 190.4 399 194.6 399 M169.8 465.4C174.2 465.4 178.6 464.6 183 462C186.9 459.7 190.7 454.6 194.6 450.9 M169.8 380.9C173.4 380.9 176.9 384.5 180.5 386C185.2 387.9 189.9 391 194.6 391 M169.8 393.2C173.9 393.2 177.9 395.2 182 396C186.2 396.8 190.4 398.2 194.6 398.2 M194.6 391C199.1 391 203.5 388 208 387C211.9 386.1 215.7 385.3 219.6 385.3 M194.6 391.6C199.1 391.6 203.5 388.6 208 387.6C211.9 386.7 215.7 385.8 219.6 385.8 M194.6 399C199.1 399 203.5 401.3 208 401.8C211.9 402.2 215.7 401.8 219.6 401.8 M194.6 399C199.1 399 203.5 403.6 208 406C211.9 408.1 215.7 412.7 219.6 412.7 M194.6 450.9C198.7 449.7 202.9 448.5 207 447.3C211.2 446.1 215.4 443.6 219.6 443.6C223.7 443.6 227.7 450.3 231.8 453.3C236.6 456.8 241.5 460.3 246.3 463C248.7 464.3 251.1 465.4 253.5 465.4 M219.6 412.7C225.2 412.7 230.9 414.6 236.5 415.5C242.2 416.5 247.8 418.4 253.5 418.4 M219.6 385.3C225.4 385.3 231.2 396.3 237 402C242.5 407.4 248 412.9 253.5 418.4 M219.6 401.8C222.7 401.8 225.9 402 229 400.4C231.5 399.1 234 396.1 236.5 393.2C239.9 389.3 243.2 384.2 246.6 380.2C248.9 377.5 251.2 373 253.5 373 M219.6 412.7C222.8 412.7 226.1 407.7 229.3 404C232.7 400.1 236 394.3 239.4 390C242.3 386.3 245.1 380 248 380 M219.6 385.3C225.2 385.3 230.9 388.7 236.5 390C242.2 391.3 247.8 393.2 253.5 393.2 M50.8 374C54.9 374 59 372.7 63.1 372.6C67.3 372.5 71.4 373.5 75.5 373.5C79.7 373.5 83.8 376.8 88 377.5C92.2 378.3 96.3 378 100.5 378C106.3 378 112.1 377.6 117.8 377C123.6 376.4 129.4 374.5 135.2 374.5C141 374.5 146.7 374.4 152.5 373.4C158.3 372.4 164 368.5 169.8 368.5C173.9 368.5 178.1 371.3 182.2 372C186.3 372.6 190.5 372.3 194.6 372.3C198.8 372.3 202.9 370.3 207.1 369.7C211.3 369.1 215.4 368.7 219.6 368.7C225.2 368.7 230.9 367.6 236.6 367.4C242.2 367.1 247.8 367.2 253.5 367.2 M50.8 375.5C54.9 375.5 59 374.2 63.1 374.2C67.3 374.2 71.4 375.5 75.5 375.5C79.7 375.5 83.8 374.6 88 374.8C92.2 375.1 96.3 377 100.5 377C106.3 377 112.1 375.3 117.8 375.3C123.6 375.3 129.4 377 135.2 377C141 377 146.7 373 152.5 371.4C158.3 369.7 164 367.3 169.8 367.3C173.9 367.3 178.1 370.1 182.2 371.3C186.3 372.4 190.5 374.4 194.6 374.4C198.8 374.4 202.9 371.3 207.1 370.7C211.3 370.1 215.4 371 219.6 371C225.2 371 230.9 371.2 236.6 371C242.2 370.7 247.8 369.5 253.5 369.5 M50.8 377C54.9 377 59 376.5 63.1 376.6C67.3 376.7 71.4 377.5 75.5 377.5C79.7 377.5 83.8 377.4 88 377.7C92.2 378.1 96.3 379.5 100.5 379.5C106.3 379.5 112.1 379.4 117.8 378.8C123.6 378.1 129.4 375.5 135.2 375.5C141 375.5 146.7 374.9 152.5 374.6C158.3 374.3 164 373.8 169.8 373.8C173.9 373.8 178.1 374.2 182.2 374.8C186.3 375.4 190.5 377.3 194.6 377.3C198.8 377.3 202.9 376.8 207.1 376.6C211.3 376.4 215.4 376 219.6 376C225.2 376 230.9 375.8 236.6 375.3C242.2 374.8 247.8 373 253.5 373 M50.8 378.5C54.9 378.5 59 376.9 63.1 377C67.3 377.1 71.4 379 75.5 379C79.7 379 83.8 381.6 88 381.9C92.2 382.2 96.3 381 100.5 381C106.3 381 112.1 378.3 117.8 377.8C123.6 377.4 129.4 378.5 135.2 378.5C141 378.5 146.7 378.7 152.5 378.3C158.3 378 164 376.2 169.8 376.2C173.9 376.2 178.1 376.7 182.2 376.2C186.3 375.8 190.5 373.5 194.6 373.5C198.8 373.5 202.9 371.6 207.1 371.7C211.3 371.7 215.4 373.7 219.6 373.7C225.2 373.7 230.9 375.3 236.6 375.5C242.2 375.7 247.8 375 253.5 375 M50.8 380.5C54.9 380.5 59 380.3 63.1 380.5C67.3 380.6 71.4 381.5 75.5 381.5C79.7 381.5 83.8 382.1 88 382.3C92.2 382.5 96.3 382.5 100.5 382.5C106.3 382.5 112.1 380.4 117.8 380.3C123.6 380.2 129.4 382 135.2 382C141 382 146.7 377.9 152.5 376.7C158.3 375.5 164 375 169.8 375C173.9 375 178.1 375.9 182.2 377C186.3 378.1 190.5 381.5 194.6 381.5C198.8 381.5 202.9 382.2 207.1 381.6C211.3 381 215.4 378 219.6 378C225.2 378 230.9 376.5 236.6 376.3C242.2 376.1 247.8 377 253.5 377 M50.8 383C54.9 383 59 384.5 63.1 384.7C67.3 384.9 71.4 384.3 75.5 384.3C79.7 384.3 83.8 386.6 88 386.9C92.2 387.2 96.3 386 100.5 386C106.3 386 112.1 387.8 117.8 387.8C123.6 387.8 129.4 386 135.2 386C141 386 146.7 383.9 152.5 383.2C158.3 382.5 164 381.7 169.8 381.7C173.9 381.7 178.1 381.9 182.2 382.3C186.3 382.7 190.5 384 194.6 384C198.8 384 202.9 382.8 207.1 382.1C211.3 381.4 215.4 380 219.6 380C225.2 380 230.9 380.7 236.6 380.5C242.2 380.3 247.8 378.8 253.5 378.8 M50.8 386.5C54.9 386.5 59 385.1 63.1 385.2C67.3 385.3 71.4 387.1 75.5 387.1C79.7 387.1 83.8 387.1 88 386.5C92.2 386 96.3 384 100.5 384C106.3 384 112.1 383.9 117.8 383.2C123.6 382.5 129.4 380 135.2 380C141 380 146.7 381.1 152.5 380.9C158.3 380.8 164 379 169.8 379C173.9 379 178.1 377.1 182.2 377.1C186.3 377.1 190.5 379 194.6 379C198.8 379 202.9 381.9 207.1 382.5C211.3 383 215.4 382.4 219.6 382.4C225.2 382.4 230.9 380.3 236.6 380.1C242.2 379.8 247.8 381 253.5 381"/>
<path fill="none" stroke="#1a1a1a" stroke-width="1.3" d="M75.5 266.2V469.1 M100.5 266.2V469.1 M135.2 266.2V469.1 M169.8 266.2V469.1 M194.6 266.2V469.1 M219.6 266.2V469.1"/>
<path fill="none" stroke="#1a1a1a" stroke-width="1.4" d="M50.6 266.2H253.5V469.1H50.6Z"/>
<path fill="none" stroke="#1a1a1a" stroke-width="1.3" d="M44.1 266.2H50.6 M46.6 278.9H50.6 M44.1 291.6H50.6 M46.6 304.2H50.6 M44.1 316.9H50.6 M46.6 329.6H50.6 M44.1 342.3H50.6 M46.6 355H50.6 M44.1 367.6H50.6 M46.6 380.3H50.6 M44.1 393H50.6 M46.6 405.7H50.6 M44.1 418.4H50.6 M46.6 431.1H50.6 M44.1 443.7H50.6 M46.6 456.4H50.6 M44.1 469.1H50.6"/>
<g font-family="Liberation Serif, serif" font-size="13.1" text-anchor="end" fill="#1a1a1a" stroke="#1a1a1a" stroke-width="0.18"><text transform="translate(42.7 269.5) scale(0.97 1)">8.0</text><text transform="translate(42.7 294.9) scale(0.97 1)">6.0</text><text transform="translate(42.7 320.2) scale(0.97 1)">4.0</text><text transform="translate(42.7 345.6) scale(0.97 1)">2.0</text><text transform="translate(42.7 370.9) scale(0.97 1)">0.0</text><text transform="translate(42.7 396.3) scale(0.97 1)">-2.0</text><text transform="translate(42.7 421.7) scale(0.97 1)">-4.0</text><text transform="translate(42.7 447) scale(0.97 1)">-6.0</text><text transform="translate(42.7 472.4) scale(0.97 1)">-8.0</text></g>
<text transform="translate(10.8 370.5) rotate(-90) scale(1.03 1)" font-family="Liberation Serif, serif" font-size="12.5" text-anchor="middle" fill="#1a1a1a" stroke="#1a1a1a" stroke-width="0.3">E (eV)</text>
<g font-family="Liberation Serif, serif" font-size="13.6" text-anchor="middle" fill="#1a1a1a" stroke="#1a1a1a" stroke-width="0.18"><text transform="translate(50.8 483.9) scale(0.9 1)">Γ</text><text transform="translate(75.5 483.9) scale(0.9 1)">X</text><text transform="translate(100.5 483.9) scale(0.9 1)">M</text><text transform="translate(135.2 483.9) scale(0.9 1)">Γ</text><text transform="translate(169.8 483.9) scale(0.9 1)">Z</text><text transform="translate(194.6 483.9) scale(0.9 1)">R</text><text transform="translate(219.6 483.9) scale(0.9 1)">A</text><text transform="translate(253.5 483.9) scale(0.9 1)">Z</text></g>
<rect x="181.5" y="302.5" width="31" height="31" fill="#fff" stroke="#5a5a5a" stroke-width="1"/>
<text transform="translate(197.1 325.0) scale(1.13 1)" font-family="Liberation Sans, sans-serif" fill="#111" stroke="#111" stroke-width="0.12" font-size="18.3" text-anchor="middle">M</text>
<clipPath id="c3"><rect x="312.4" y="266.2" width="202.6" height="202.9"/></clipPath>
<path clip-path="url(#c3)" fill="none" stroke="#262626" stroke-width="1.2" d="M312.4 279.6C315.3 283 318.2 286.1 321.1 289.8C324.8 294.5 328.6 299.9 332.3 304.7C335.4 308.6 338.4 313.2 341.5 315.8C344.6 318.4 347.6 320.5 350.7 320.5C354.5 320.5 358.2 320.4 362 317.7C366.3 314.5 370.7 308.4 375 302.8C379.3 297.2 383.7 289.3 388 284.3C390.4 281.5 392.9 279.6 395.3 279.6C398.5 279.6 401.6 278.2 404.8 276.8C407.3 275.7 409.8 274 412.3 272.2C414 271 415.7 269.1 417.4 267.6 M312.4 279.6C314.7 276.8 317 273.1 319.3 271.3C322.4 268.8 325.5 268.5 328.6 266.6C329.4 266.1 330.2 264 331 264 M339 264C341 264 343 266.2 345 266.8C346.9 267.4 348.8 267.5 350.7 267.5C352.6 267.5 354.6 267.4 356.5 266.8C358.5 266.2 360.5 264 362.5 264 M333 264C336 264 339 267.5 342 268.4C344.9 269.3 347.8 269.3 350.7 269.3C353.6 269.3 356.6 269.3 359.5 268.4C362.5 267.5 365.5 264 368.5 264 M327 264C331 264 335 268.8 339 270C342.9 271.2 346.8 271.2 350.7 271.2C354.6 271.2 358.6 271.2 362.5 270C366.5 268.8 370.5 264 374.5 264 M323 264C327.3 264 331.7 270.2 336 271.6C340.9 273.2 345.8 273.2 350.7 273.2C355.6 273.2 360.6 273.2 365.5 271.6C369.8 270.2 374.2 264 378.5 264 M417.4 267.6C419.9 269 422.5 270.7 425 271.8C427.6 272.9 430.1 274.4 432.7 274.4C435.5 274.4 438.2 272.9 441 271.8C443.7 270.7 446.4 269 449.1 267.6 M412 262C413.8 262 415.6 267.6 417.4 267.6C418.9 267.6 420.5 262 422 262 M449.1 267.6C452.7 269.3 456.2 271.3 459.8 272.7C463.5 274.1 467.2 274.4 470.9 276C474.3 277.5 477.8 278.3 481.2 281.8C484 284.6 486.7 290.7 489.5 295C492.8 300.1 496.1 305.8 499.4 309.8C502.7 313.8 506 316.6 509.3 318.9C511.2 320.2 513.1 320.6 515 320.6 M444 262C445.7 262 447.4 267.6 449.1 267.6C450.7 267.6 452.4 262 454 262 M486 264C490.3 264 494.7 268.1 499 269C504.3 270.1 509.7 270.2 515 270.2 M488 264C492 264 496 269.7 500 271C505 272.6 510 272.8 515 272.8 M490 264C494 264 498 271.2 502 273C506.3 274.9 510.7 275 515 275 M493 264C497 264 501 272.2 505 274.5C508.3 276.4 511.7 276.6 515 276.6 M312.4 401.4C316.1 401.4 319.8 402.9 323.5 405C326.4 406.6 329.4 410.2 332.3 412.5C335.4 414.9 338.4 417.8 341.5 419C344.6 420.2 347.6 420 350.7 420 M312.4 401.4C316.1 401.4 319.8 403.9 323.5 406.2C326.4 408 329.4 411.4 332.3 413.6C335.4 415.9 338.4 418.6 341.5 419.8C344.6 421 347.6 420.9 350.7 420.9 M312.4 444C316.1 440.9 319.8 437.9 323.5 434.8C326.4 432.4 329.4 429.5 332.3 427.4C335.4 425.2 338.4 423.1 341.5 422C344.6 420.9 347.6 420.9 350.7 420.9 M350.7 419.6C358.1 419.6 365.6 419.2 373 419C380.4 418.8 387.9 418.6 395.3 418.6 M350.7 420.9C358.1 420.9 365.6 420.5 373 420C380.4 419.5 387.9 418.1 395.3 418.1 M350.7 379.2C353.8 379.2 356.9 381.8 360 383.5C363.3 385.3 366.7 386.9 370 389.7C373.6 392.7 377.2 397 380.8 400.8C383 403.1 385.2 406.3 387.4 408.2C390 410.4 392.7 411.4 395.3 413 M395.3 418.1C398.5 421.2 401.6 424.7 404.8 427.4C409 430.9 413.2 433.5 417.4 436.6 M395.3 400.5C398.9 400.5 402.4 398.2 406 397C409.8 395.7 413.6 393 417.4 393 M395.3 413.5C398.9 413.5 402.4 414.2 406 414.5C409.8 414.8 413.6 415.3 417.4 415.3 M395.3 413C398.9 409.8 402.4 406.7 406 403.5C409.8 400.1 413.6 396.8 417.4 393.4 M312.4 444C315.6 446.7 318.8 449.6 322 452C326.3 455.3 330.7 459 335 461C340.2 463.4 345.5 465.4 350.7 465.4C356.7 465.4 362.8 464.6 368.8 461.5C373.9 458.8 379.1 452.2 384.2 448C386.8 445.9 389.4 444.1 392 442.7C393.1 442.1 394.2 441.9 395.3 441.9C399.3 441.9 403.3 441.4 407.3 440.4C410.7 439.6 414 437.9 417.4 436.6 M417.4 436.6C422.5 435.6 427.6 433.9 432.7 433.6C438.2 433.3 443.6 434.8 449.1 434.8 M417.4 436.6C422.5 437.9 427.6 440.7 432.7 440.4C438.2 440.1 443.6 436.7 449.1 434.8 M417.4 415.3C422.5 415.3 427.6 413 432.7 413.5C438.2 414 443.6 418.1 449.1 418.1 M417.4 393.4C422.5 393.4 427.6 400.3 432.7 400.5C438.2 400.7 443.6 394.6 449.1 394.6 M417.4 398.4C422.5 398.4 427.6 397.3 432.7 397C438.2 396.7 443.6 396.1 449.1 396.5C452.7 396.8 456.4 398.5 460 399C463.6 399.5 467.3 399.6 470.9 399.6 M449.1 434.8C452.7 431.9 456.4 428.8 460 426C463.6 423.2 467.3 420.7 470.9 418.1 M449.1 394.6C452.7 398.2 456.4 401.9 460 405.5C463.6 409.1 467.3 412.8 470.9 416.5 M449.1 418.1C452.7 418.1 456.4 418 460 418C463.6 418 467.3 418.1 470.9 418.1 M449.1 434.8C452.7 434.8 456.4 436.4 460 437C463.6 437.6 467.3 438.1 470.9 438.1 M470.9 418.1C478.3 418.1 485.6 419 493 419.5C500.3 420 507.7 421.3 515 421.3 M470.9 419C478.3 419 485.6 420 493 420.6C500.3 421.2 507.7 422.4 515 422.4 M470.9 438.1C474.3 438.1 477.6 441.5 481 444C485.7 447.5 490.3 452.5 495 456C498.3 458.5 501.7 460.6 505 462C508.3 463.4 511.7 464.6 515 464.6 M470.9 418.1C475.1 412.3 479.2 406.4 483.4 400.8C488.2 394.2 493.1 386.8 497.9 381.5C500.9 378.2 504 376.5 507 375C509.7 373.7 512.3 373 515 373 M470.9 385.1C476.6 385.1 482.3 397.5 488 399.6C492 401.1 496 397.1 500 396C505 394.6 510 392.3 515 392.3 M470.9 392.1C477.3 392.1 483.6 392 490 392C498.3 392 506.7 392.3 515 392.3 M312.4 372.4C318.8 372.4 325.2 371 331.5 370.2C337.9 369.4 344.3 367.4 350.7 367.4C358.1 367.4 365.6 367.5 373 367.5C380.4 367.5 387.9 367.4 395.3 367.4C399 367.4 402.7 369.8 406.4 370.2C410 370.6 413.7 370 417.4 370C422.7 370 428 370.6 433.2 370.4C438.5 370.3 443.8 369 449.1 369C452.7 369 456.4 367.6 460 367.4C463.6 367.1 467.3 367.4 470.9 367.4C478.2 367.4 485.6 369.2 492.9 369.1C500.3 369.1 507.6 367 515 367 M312.4 373.6C318.8 373.6 325.2 371.9 331.5 371.8C337.9 371.7 344.3 373 350.7 373C358.1 373 365.6 373.5 373 373.9C380.4 374.3 387.9 375.5 395.3 375.5C399 375.5 402.7 375.5 406.4 375C410 374.5 413.7 372.4 417.4 372.4C422.7 372.4 428 371.4 433.2 371.6C438.5 371.7 443.8 373.5 449.1 373.5C452.7 373.5 456.4 373.1 460 372.9C463.6 372.7 467.3 372.4 470.9 372.4C478.2 372.4 485.6 369.6 492.9 369.1C500.3 368.6 507.6 369.5 515 369.5 M312.4 385.4C318.8 385.4 325.2 381.7 331.5 379.6C337.9 377.4 344.3 372.4 350.7 372.4C358.1 372.4 365.6 375 373 375.8C380.4 376.5 387.9 377 395.3 377C399 377 402.7 376.6 406.4 376.3C410 376 413.7 375 417.4 375C422.7 375 428 375.4 433.2 374.9C438.5 374.4 443.8 371.8 449.1 371.8C452.7 371.8 456.4 371.8 460 372.2C463.6 372.5 467.3 374 470.9 374C478.2 374 485.6 374.4 492.9 374.3C500.3 374.1 507.6 373 515 373 M312.4 386.6C318.8 386.6 325.2 383.1 331.5 381.2C337.9 379.2 344.3 375 350.7 375C358.1 375 365.6 374.5 373 374C380.4 373.6 387.9 372.4 395.3 372.4C399 372.4 402.7 374.4 406.4 375.5C410 376.6 413.7 379 417.4 379C422.7 379 428 379.2 433.2 378.6C438.5 378 443.8 375.5 449.1 375.5C452.7 375.5 456.4 377.5 460 377.6C463.6 377.7 467.3 376.1 470.9 376.1C478.2 376.1 485.6 375.4 492.9 375.1C500.3 374.8 507.6 374.3 515 374.3 M312.4 388.5C318.8 388.5 325.2 384.4 331.5 382C337.9 379.6 344.3 374.2 350.7 374.2C358.1 374.2 365.6 373.9 373 374.6C380.4 375.3 387.9 378.5 395.3 378.5C399 378.5 402.7 378.9 406.4 378.7C410 378.5 413.7 377.3 417.4 377.3C422.7 377.3 428 378.1 433.2 378.2C438.5 378.4 443.8 378 449.1 378C452.7 378 456.4 381 460 381.5C463.6 382 467.3 381 470.9 381C478.2 381 485.6 380.6 492.9 379.8C500.3 379 507.6 376 515 376 M312.4 389.7C318.8 389.7 325.2 384.6 331.5 382.5C337.9 380.4 344.3 377 350.7 377C358.1 377 365.6 378.9 373 380.1C380.4 381.3 387.9 384.1 395.3 384.1C399 384.1 402.7 385.6 406.4 386C410 386.4 413.7 386.6 417.4 386.6C422.7 386.6 428 383 433.2 382.2C438.5 381.4 443.8 381.6 449.1 381.6C452.7 381.6 456.4 382.7 460 383.3C463.6 384 467.3 385.4 470.9 385.4C478.2 385.4 485.6 381.6 492.9 380.3C500.3 379.1 507.6 377.9 515 377.9 M312.4 394.6C318.8 394.6 325.2 392.5 331.5 392.2C337.9 391.9 344.3 392.8 350.7 392.8C358.1 392.8 365.6 390 373 389.5C380.4 389 387.9 389.7 395.3 389.7C399 389.7 402.7 390.9 406.4 390.9C410 391 413.7 390 417.4 390C422.7 390 428 387.9 433.2 387.5C438.5 387.2 443.8 388 449.1 388C452.7 388 456.4 385.7 460 385C463.6 384.4 467.3 384.1 470.9 384.1C478.2 384.1 485.6 382.3 492.9 381.6C500.3 380.9 507.6 380 515 380 M312.4 397.1C318.8 397.1 325.2 392.6 331.5 389.6C337.9 386.7 344.3 379.2 350.7 379.2C358.1 379.2 365.6 377.7 373 377.8C380.4 377.9 387.9 379.8 395.3 379.8C399 379.8 402.7 384.1 406.4 386.4C410 388.7 413.7 393.4 417.4 393.4C422.7 393.4 428 394 433.2 394.2C438.5 394.4 443.8 394.6 449.1 394.6C452.7 394.6 456.4 393.9 460 392.8C463.6 391.7 467.3 388 470.9 388C478.2 388 485.6 387.9 492.9 387.3C500.3 386.6 507.6 384 515 384 M312.4 399C318.8 399 325.2 399.5 331.5 399C337.9 398.5 344.3 396 350.7 396C358.1 396 365.6 394.8 373 394.6C380.4 394.4 387.9 395 395.3 395C399 395 402.7 390.6 406.4 388.6C410 386.6 413.7 382.9 417.4 382.9C422.7 382.9 428 386.9 433.2 389.1C438.5 391.4 443.8 396.5 449.1 396.5C452.7 396.5 456.4 399.1 460 399.6C463.6 400.1 467.3 399.6 470.9 399.6C478.2 399.6 485.6 397.6 492.9 395.6C500.3 393.7 507.6 388 515 388 M312.4 400.8C318.8 400.8 325.2 397.3 331.5 396.3C337.9 395.3 344.3 394.6 350.7 394.6C358.1 394.6 365.6 395 373 395.8C380.4 396.6 387.9 399.6 395.3 399.6C399 399.6 402.7 398.1 406.4 397.9C410 397.7 413.7 398.4 417.4 398.4C422.7 398.4 428 392.8 433.2 390.5C438.5 388.2 443.8 384.7 449.1 384.7C452.7 384.7 456.4 386.9 460 388C463.6 389.2 467.3 391.5 470.9 391.5C478.2 391.5 485.6 392.1 492.9 392.3C500.3 392.4 507.6 392.3 515 392.3"/>
<path fill="none" stroke="#1a1a1a" stroke-width="1.3" d="M350.7 266.2V469.1 M395.3 266.2V469.1 M417.4 266.2V469.1 M449.1 266.2V469.1 M470.9 266.2V469.1"/>
<path fill="none" stroke="#1a1a1a" stroke-width="1.4" d="M312.4 266.2H515V469.1H312.4Z"/>
<path fill="none" stroke="#1a1a1a" stroke-width="1.3" d="M305.9 266.2H312.4 M308.4 278.9H312.4 M305.9 291.6H312.4 M308.4 304.2H312.4 M305.9 316.9H312.4 M308.4 329.6H312.4 M305.9 342.3H312.4 M308.4 355H312.4 M305.9 367.6H312.4 M308.4 380.3H312.4 M305.9 393H312.4 M308.4 405.7H312.4 M305.9 418.4H312.4 M308.4 431.1H312.4 M305.9 443.7H312.4 M308.4 456.4H312.4 M305.9 469.1H312.4"/>
<g font-family="Liberation Serif, serif" font-size="13.1" text-anchor="end" fill="#1a1a1a" stroke="#1a1a1a" stroke-width="0.18"><text transform="translate(304.5 269.5) scale(0.97 1)">8.0</text><text transform="translate(304.5 294.9) scale(0.97 1)">6.0</text><text transform="translate(304.5 320.2) scale(0.97 1)">4.0</text><text transform="translate(304.5 345.6) scale(0.97 1)">2.0</text><text transform="translate(304.5 370.9) scale(0.97 1)">0.0</text><text transform="translate(304.5 396.3) scale(0.97 1)">-2.0</text><text transform="translate(304.5 421.7) scale(0.97 1)">-4.0</text><text transform="translate(304.5 447) scale(0.97 1)">-6.0</text><text transform="translate(304.5 472.4) scale(0.97 1)">-8.0</text></g>
<text transform="translate(272.2 370.5) rotate(-90) scale(1.03 1)" font-family="Liberation Serif, serif" font-size="12.5" text-anchor="middle" fill="#1a1a1a" stroke="#1a1a1a" stroke-width="0.3">E (eV)</text>
<g font-family="Liberation Serif, serif" font-size="13.6" text-anchor="middle" fill="#1a1a1a" stroke="#1a1a1a" stroke-width="0.18"><text transform="translate(312.4 483.9) scale(0.9 1)">N</text><text transform="translate(350.7 483.9) scale(0.9 1)">Γ</text><text transform="translate(395.3 483.9) scale(0.9 1)">X</text><text transform="translate(417.4 483.9) scale(0.9 1)">P</text><text transform="translate(449.1 483.9) scale(0.9 1)">yl</text><text transform="translate(470.9 483.9) scale(0.9 1)">Z</text><text transform="translate(515 483.9) scale(0.9 1)">Γ</text></g>
<rect x="457.5" y="302.5" width="24" height="31" fill="#fff" stroke="#5a5a5a" stroke-width="1"/>
<text x="469.4" y="324.7" font-family="Liberation Sans, sans-serif" fill="#111" stroke="#111" stroke-width="0.12" font-size="18.3" text-anchor="middle">R</text>
</svg></body></html>
